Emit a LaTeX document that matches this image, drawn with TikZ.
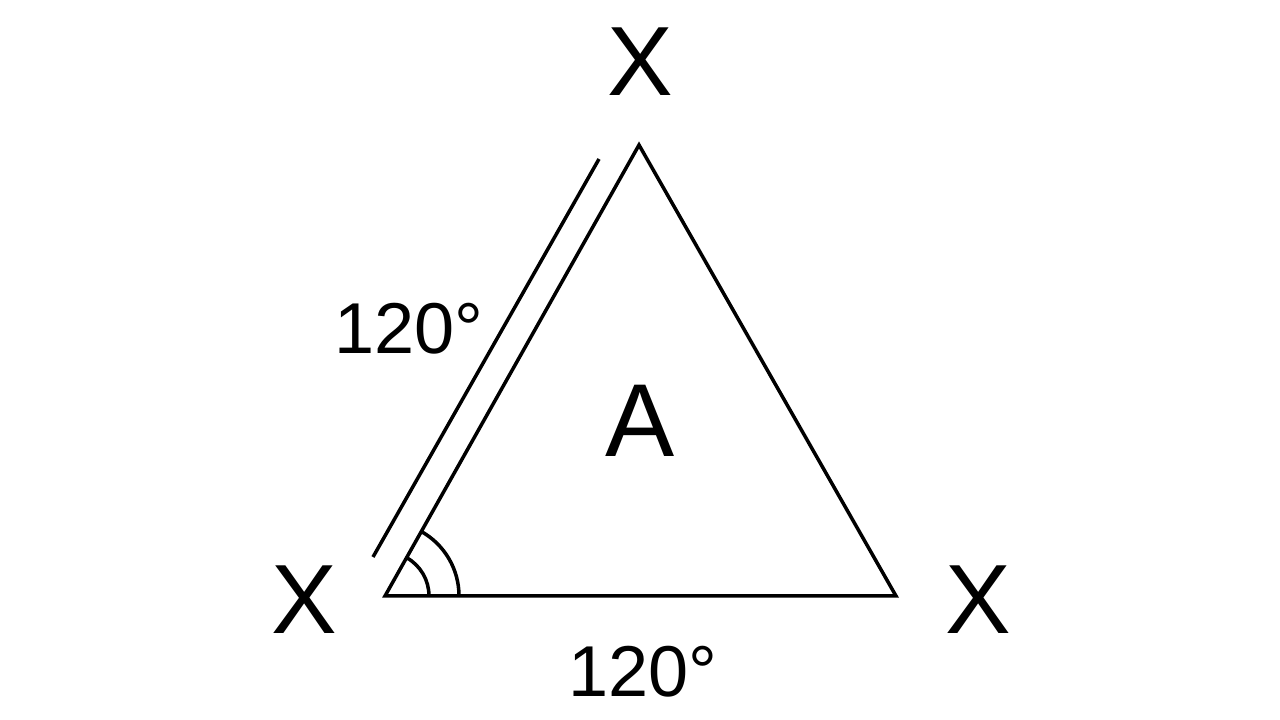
\documentclass[tikz,border=0pt]{standalone}
\usepackage{fontspec}
\setmainfont{Liberation Sans}
\tikzset{
	edge/.style={draw=black, line width=1pt, solid},
	vlabel/.style={black, font=\fontsize{28}{30}\selectfont},
	alabel/.style={black, font=\fontsize{20.5}{22}\selectfont}
}
\begin{document}
\begin{tikzpicture}
		\useasboundingbox (0.00,0.00) rectangle (12.80,7.20);
		\coordinate (vl) at (3.85,1.24);
		\coordinate (vr) at (8.96,1.24);
		\coordinate (vt) at (6.39,5.75);
		\coordinate (pl) at (3.73,1.63);
		\coordinate (pt) at (5.99,5.61);
		\draw[edge, line join=miter] (vl) -- (vr) -- (vt) -- cycle;
		\draw[edge] (pl) -- (pt);
		\draw[edge] ([xshift=0.44cm]vl) arc[start angle=0, end angle=60.6, radius=0.44];
		\draw[edge] ([xshift=0.74cm]vl) arc[start angle=0, end angle=60.6, radius=0.74];
		\node[vlabel] (xt) at (6.40,6.58) {X};
		\node[vlabel] (xl) at (3.04,1.20) {X};
		\node[vlabel] (xr) at (9.78,1.20) {X};
		\node[vlabel, font=\fontsize{29.5}{31}\selectfont] (area) at (6.40,2.99) {A};
		\node[alabel] (sl) at (4.09,3.91) {120°};
		\node[alabel] (sb) at (6.43,0.48) {120°};
	\end{tikzpicture}
\end{document}
